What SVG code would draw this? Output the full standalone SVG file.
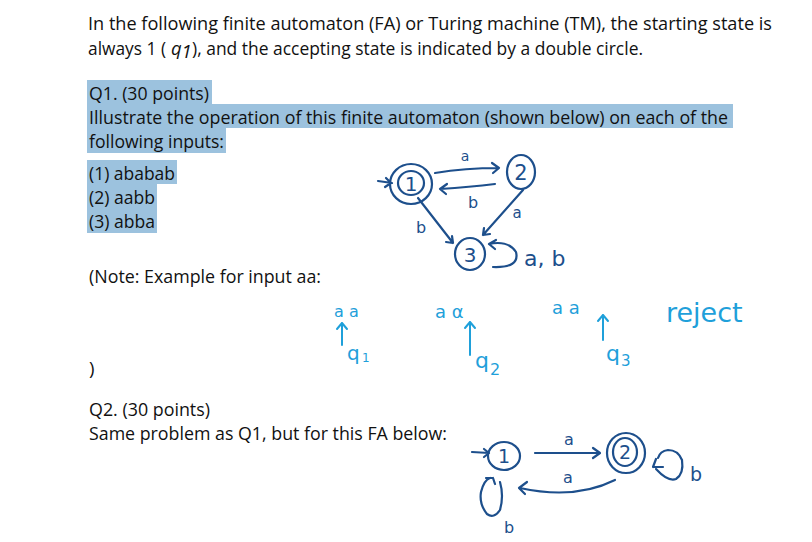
<svg xmlns="http://www.w3.org/2000/svg" width="812" height="542" viewBox="0 0 812 542">
<style>
.t{font-family:"Open Sans","Noto Sans",sans-serif;font-size:18.5px;fill:#111}
.hl{fill:#9cc2de}
.st{fill:none;stroke:#1d4f8c;stroke-width:2.2;stroke-linecap:round;stroke-linejoin:round}
.hw{font-family:"DejaVu Sans",sans-serif;fill:#1d4f8c}
.cy{fill:none;stroke:#1fa0da;stroke-width:2;stroke-linecap:round;stroke-linejoin:round}
.cyt{font-family:"DejaVu Sans",sans-serif;fill:#1fa0da}
</style>
<rect width="812" height="542" fill="#fff"/>
<g id="intro">
<text class="t" x="88" y="30" textLength="684" lengthAdjust="spacingAndGlyphs">In the following finite automaton (FA) or Turing machine (TM),  the starting state is</text>
<text class="t" x="88" y="55" font-size="17.5" textLength="78" lengthAdjust="spacingAndGlyphs">always 1 (</text>
<text class="t" x="171" y="55" font-style="italic" font-size="17">q</text>
<text class="t" x="181.5" y="58" font-style="italic" font-size="9.5">1</text>
<text class="t" x="192" y="55" textLength="451" lengthAdjust="spacingAndGlyphs">), and the accepting state is indicated by a double circle.</text>
</g>
<g id="q1">
<rect class="hl" x="87" y="80" width="125" height="24"/>
<rect class="hl" x="87" y="104" width="646" height="24"/>
<rect class="hl" x="87" y="128" width="139" height="25"/>
<rect class="hl" x="87" y="160" width="90" height="24"/>
<rect class="hl" x="87" y="184" width="70" height="24"/>
<rect class="hl" x="87" y="208" width="70" height="25"/>
<text class="t" x="89" y="100" textLength="120" lengthAdjust="spacingAndGlyphs">Q1. (30 points)</text>
<text class="t" x="89" y="124" textLength="639" lengthAdjust="spacingAndGlyphs">Illustrate the operation of this finite automaton (shown below) on each of the</text>
<text class="t" x="89" y="148" textLength="135" lengthAdjust="spacingAndGlyphs">following inputs:</text>
<text class="t" x="89" y="180" textLength="86" lengthAdjust="spacingAndGlyphs">(1) ababab</text>
<text class="t" x="89" y="204" textLength="66" lengthAdjust="spacingAndGlyphs">(2) aabb</text>
<text class="t" x="89" y="228" textLength="66" lengthAdjust="spacingAndGlyphs">(3) abba</text>
<text class="t" x="89" y="283" textLength="232" lengthAdjust="spacingAndGlyphs">(Note: Example for input aa:</text>
<text class="t" x="89" y="375">)</text>
</g>
<g id="q2">
<text class="t" x="89" y="416" textLength="121" lengthAdjust="spacingAndGlyphs">Q2. (30 points)</text>
<text class="t" x="89" y="440" textLength="358" lengthAdjust="spacingAndGlyphs">Same problem as Q1, but for this FA below:</text>
</g>
<g id="fa1-state1">
<ellipse class="st" cx="411" cy="184" rx="21" ry="20"/>
<ellipse class="st" cx="411" cy="183" rx="13" ry="12"/>
<text class="hw" x="411" y="191" font-size="20" text-anchor="middle">1</text>
</g>
<g id="fa1-state2">
<ellipse class="st" cx="521" cy="172" rx="14" ry="17"/>
<text class="hw" x="521" y="180" font-size="21" text-anchor="middle">2</text>
</g>
<g id="fa1-state3">
<ellipse class="st" cx="470" cy="254" rx="15" ry="16"/>
<text class="hw" x="470" y="262" font-size="20" text-anchor="middle">3</text>
</g>
<g id="fa1-connectors">
<path class="st" d="M378 181 L392 183 M386 178 L391 183 L385 187"/>
<path class="st" d="M435 173 Q465 168 499 168 M492 163 L499 168 L493 173"/>
<path class="st" d="M495 184 Q470 187 440 189 M447 184 L440 189 L446 194"/>
<path class="st" d="M418 198 L453 243 M452 236 L453 243 L446 242"/>
<path class="st" d="M523 190 L483 235 M484 228 L483 235 L490 234"/>
<path class="st" d="M489 244 Q508 240 516 252 Q520 268 493 267 M489 244 L496 240 M489 244 L495 249"/>
<text class="hw" x="465" y="161" font-size="14" text-anchor="middle">a</text>
<text class="hw" x="473" y="208" font-size="16" text-anchor="middle">b</text>
<text class="hw" x="421" y="233" font-size="16" text-anchor="middle">b</text>
<text class="hw" x="517" y="218" font-size="15" text-anchor="middle">a</text>
<text class="hw" x="524" y="266" font-size="22">a, b</text>
</g>
<g id="example">
<text class="cyt" x="334" y="317" font-size="16">a a</text>
<path class="cy" d="M342 345 L342 323 M337 329 L342 323 L347 329"/>
<text class="cyt" x="347" y="360" font-size="20">q</text>
<text class="cyt" x="362" y="362" font-size="12">1</text>
<text class="cyt" x="435" y="318" font-size="18">a α</text>
<path class="cy" d="M470 355 L470 322 M465 328 L470 322 L475 328"/>
<text class="cyt" x="475" y="368" font-size="22">q</text>
<text class="cyt" x="490" y="375" font-size="16">2</text>
<text class="cyt" x="552" y="314" font-size="18">a a</text>
<path class="cy" d="M603 340 L603 315 M598 321 L603 315 L608 321"/>
<text class="cyt" x="606" y="361" font-size="22">q</text>
<text class="cyt" x="621" y="366" font-size="15">3</text>
<text class="cyt" x="666" y="322" font-size="27">reject</text>
</g>
<g id="fa2-state1">
<ellipse class="st" cx="504" cy="456" rx="16" ry="14"/>
<text class="hw" x="504" y="463" font-size="19" text-anchor="middle">1</text>
</g>
<g id="fa2-state2">
<ellipse class="st" cx="626" cy="453" rx="19" ry="20"/>
<ellipse class="st" cx="625" cy="452" rx="12" ry="14"/>
<text class="hw" x="625" y="459" font-size="19" text-anchor="middle">2</text>
</g>
<g id="fa2-connectors">
<path class="st" d="M472 452 L489 453 M484 449 L489 453 L484 457"/>
<path class="st" d="M535 453 L600 453 M593 448 L600 453 L593 458"/>
<path class="st" d="M615 480 Q575 500 520 488 M527 482 L519 488 L525 494"/>
<path class="st" d="M656 469 Q668 482 676 479 Q684 474 682 460 Q678 450 668 450 Q660 451 658 458 M653 467 L656 459 M653 467 L663 467"/>
<path class="st" d="M500 482 Q504 496 500 510 Q494 519 487 514 Q479 504 481 492 Q484 480 490 478 M493 478 L486 478 M493 478 L495 484"/>
<text class="hw" x="569" y="445" font-size="16" text-anchor="middle">a</text>
<text class="hw" x="568" y="483" font-size="16" text-anchor="middle">a</text>
<text class="hw" x="696" y="481" font-size="19" text-anchor="middle">b</text>
<text class="hw" x="509" y="533" font-size="16" text-anchor="middle">b</text>
</g>
</svg>
